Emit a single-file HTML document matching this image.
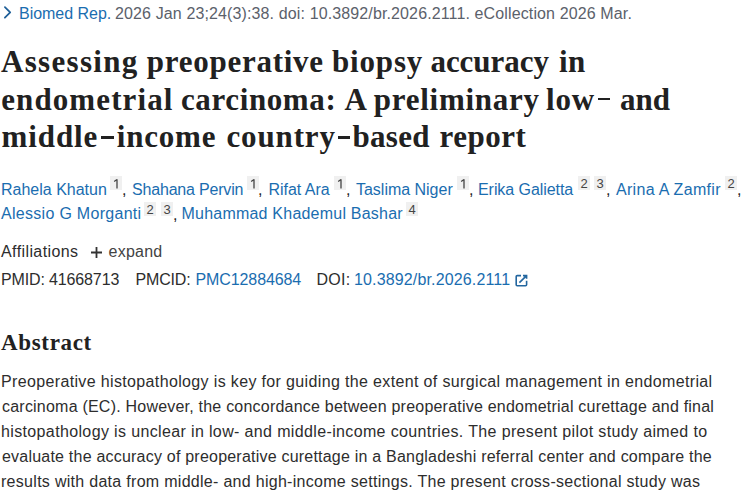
<!DOCTYPE html>
<html><head><meta charset="utf-8">
<style>

html,body{margin:0;padding:0;background:#fff;}
body{width:750px;height:500px;overflow:hidden;position:relative;font-family:"Liberation Sans",sans-serif;color:#212121;}
.g{position:absolute;white-space:nowrap;}
.s16{font-size:16px;line-height:24px;}
.link{color:#1a6db0;}
.gray{color:#5b616b;}
.dark{color:#2d2d2d;}
.dark2{color:#434343;}
.title{font-family:"Liberation Serif",serif;font-weight:bold;font-size:31px;line-height:38px;color:#212121;}
.h2{font-family:"Liberation Serif",serif;font-weight:bold;font-size:23px;line-height:30px;color:#212121;}
.sb{position:absolute;width:12px;height:14px;background:#f0f0f0;color:#444;font-size:13px;line-height:15px;text-align:center;}
.one{position:absolute;left:0;top:0;}
.cm{position:absolute;font-size:16px;line-height:24px;color:#212121;}

</style></head><body>
<svg style="position:absolute;left:0;top:0" width="16" height="24" viewBox="0 0 16 24"><path d="M4.9 7.1 L10.2 12.4 L4.9 17.7" fill="none" stroke="#1f5f98" stroke-width="1.75" stroke-linecap="round" stroke-linejoin="round"/></svg>
<div class="sb" style="left:110px;top:176px"><svg class="one" width="12" height="14" viewBox="0 0 12 14"><path d="M7 3.3 V12.5 M7 3.4 L4.2 5.5" fill="none" stroke="#444" stroke-width="1.3"/></svg></div><div class="cm" style="left:122px;top:177.5px">,</div>
<div class="sb" style="left:247px;top:176px"><svg class="one" width="12" height="14" viewBox="0 0 12 14"><path d="M7 3.3 V12.5 M7 3.4 L4.2 5.5" fill="none" stroke="#444" stroke-width="1.3"/></svg></div><div class="cm" style="left:258px;top:177.5px">,</div>
<div class="sb" style="left:334px;top:176px"><svg class="one" width="12" height="14" viewBox="0 0 12 14"><path d="M7 3.3 V12.5 M7 3.4 L4.2 5.5" fill="none" stroke="#444" stroke-width="1.3"/></svg></div><div class="cm" style="left:346px;top:177.5px">,</div>
<div class="sb" style="left:457px;top:176px"><svg class="one" width="12" height="14" viewBox="0 0 12 14"><path d="M7 3.3 V12.5 M7 3.4 L4.2 5.5" fill="none" stroke="#444" stroke-width="1.3"/></svg></div><div class="cm" style="left:469px;top:177.5px">,</div>
<div class="sb" style="left:578px;top:176px">2</div><div class="sb" style="left:594px;top:176px">3</div><div class="cm" style="left:606px;top:177.5px">,</div>
<div class="sb" style="left:725px;top:176px">2</div><div class="cm" style="left:737px;top:177.5px">,</div>
<div class="sb" style="left:144px;top:202px">2</div><div class="sb" style="left:161px;top:202px">3</div><div class="cm" style="left:173px;top:202.5px">,</div>
<div class="sb" style="left:406px;top:202px">4</div>
<svg style="position:absolute;left:90px;top:246px" width="13" height="13" viewBox="0 0 13 13"><path d="M6.5 1 V12 M1 6.5 H12" stroke="#333" stroke-width="1.8"/></svg>
<svg style="position:absolute;left:512px;top:271px" width="20" height="20" viewBox="0 0 20 20"><path d="M9 4.6 H5.2 Q4.2 4.6 4.2 5.6 V13.8 Q4.2 14.8 5.2 14.8 H13.6 Q14.6 14.8 14.6 13.8 V9.8" fill="none" stroke="#23669f" stroke-width="1.6"/><path d="M11 4.6 H14.6 V7.8 M7.4 11.6 L14.3 4.9" fill="none" stroke="#23669f" stroke-width="1.6"/></svg>
<div style="position:absolute;left:597.6px;top:97.6px;width:12.4px;height:2.6px;background:#212121"></div>
<div style="position:absolute;left:101.2px;top:136.3px;width:12.4px;height:2.6px;background:#212121"></div>
<div style="position:absolute;left:338px;top:136.2px;width:12.2px;height:2.6px;background:#212121"></div>

<div class="g s16 link" id="cit_link" style="left:19.00px;top:2.00px;letter-spacing:-0.020px">Biomed Rep.</div>
<div class="g s16 gray" id="cit_rest" style="left:115.00px;top:2.00px;letter-spacing:0.125px">2026 Jan 23;24(3):38. doi: 10.3892/br.2026.2111. eCollection 2026 Mar.</div>
<div class="g title" id="t1a" style="left:1.00px;top:42.60px;letter-spacing:1.312px">Assessing</div>
<div class="g title" id="t1b" style="left:146.80px;top:42.60px;letter-spacing:0.736px">preoperative</div>
<div class="g title" id="t1c" style="left:332.00px;top:42.60px;letter-spacing:0.840px">biopsy</div>
<div class="g title" id="t1d" style="left:430.40px;top:42.60px;letter-spacing:-0.014px">accuracy</div>
<div class="g title" id="t1e" style="left:559.00px;top:42.60px;letter-spacing:0.500px">in</div>
<div class="g title" id="t2a" style="left:1.20px;top:80.50px;letter-spacing:1.110px">endometrial</div>
<div class="g title" id="t2b" style="left:181.00px;top:80.50px;letter-spacing:0.611px">carcinoma:</div>
<div class="g title" id="t2c" style="left:344.40px;top:80.50px;letter-spacing:0.000px">A</div>
<div class="g title" id="t2d" style="left:373.80px;top:80.50px;letter-spacing:0.740px">preliminary</div>
<div class="g title" id="t2e" style="left:546.00px;top:80.50px;letter-spacing:0.800px">low</div>
<div class="g title" id="t2f" style="left:620.00px;top:80.50px;letter-spacing:0.000px">and</div>
<div class="g title" id="t3a" style="left:1.60px;top:118.31px;letter-spacing:0.900px">middle</div>
<div class="g title" id="t3b" style="left:116.80px;top:118.31px;letter-spacing:0.780px">income</div>
<div class="g title" id="t3c" style="left:226.40px;top:118.31px;letter-spacing:0.883px">country</div>
<div class="g title" id="t3d" style="left:352.40px;top:118.31px;letter-spacing:0.350px">based</div>
<div class="g title" id="t3e" style="left:439.60px;top:118.31px;letter-spacing:0.480px">report</div>
<div class="g s16 link" id="a1" style="left:1.00px;top:177.70px;letter-spacing:0.000px">Rahela Khatun</div>
<div class="g s16 link" id="a2" style="left:132.00px;top:177.70px;letter-spacing:-0.185px">Shahana Pervin</div>
<div class="g s16 link" id="a3" style="left:268.50px;top:177.70px;letter-spacing:-0.025px">Rifat Ara</div>
<div class="g s16 link" id="a4" style="left:356.00px;top:177.70px;letter-spacing:-0.017px">Taslima Niger</div>
<div class="g s16 link" id="a5" style="left:478.00px;top:177.70px;letter-spacing:-0.062px">Erika Galietta</div>
<div class="g s16 link" id="a6" style="left:616.00px;top:177.70px;letter-spacing:0.308px">Arina A Zamfir</div>
<div class="g s16 link" id="a7" style="left:1.00px;top:202.20px;letter-spacing:0.294px">Alessio G Morganti</div>
<div class="g s16 link" id="a8" style="left:181.50px;top:202.20px;letter-spacing:0.217px">Muhammad Khademul Bashar</div>
<div class="g s16 dark" id="aff" style="left:1.00px;top:240.00px;letter-spacing:0.400px">Affiliations</div>
<div class="g s16 dark2" id="exp" style="left:108.50px;top:240.00px;letter-spacing:0.240px">expand</div>
<div class="g s16 dark" id="pmid" style="left:1.00px;top:268.20px;letter-spacing:-0.138px">PMID: 41668713</div>
<div class="g s16 dark" id="pmcidl" style="left:135.50px;top:268.20px;letter-spacing:-0.160px">PMCID:</div>
<div class="g s16 link" id="pmcid" style="left:195.50px;top:268.20px;letter-spacing:-0.100px">PMC12884684</div>
<div class="g s16 dark" id="doil" style="left:316.50px;top:268.20px;letter-spacing:0.267px">DOI:</div>
<div class="g s16 link" id="doi" style="left:354.00px;top:268.20px;letter-spacing:0.147px">10.3892/br.2026.2111</div>
<div class="g h2" id="abs" style="left:1.00px;top:327.61px;letter-spacing:0.657px">Abstract</div>
<div class="g s16 dark" id="p1" style="left:1.00px;top:370.20px;letter-spacing:0.355px">Preoperative histopathology is key for guiding the extent of surgical management in endometrial</div>
<div class="g s16 dark" id="p2" style="left:2.00px;top:395.20px;letter-spacing:0.217px">carcinoma (EC). However, the concordance between preoperative endometrial curettage and final</div>
<div class="g s16 dark" id="p3" style="left:1.00px;top:420.20px;letter-spacing:0.362px">histopathology is unclear in low- and middle-income countries. The present pilot study aimed to</div>
<div class="g s16 dark" id="p4" style="left:2.00px;top:445.20px;letter-spacing:0.215px">evaluate the accuracy of preoperative curettage in a Bangladeshi referral center and compare the</div>
<div class="g s16 dark" id="p5" style="left:1.00px;top:470.20px;letter-spacing:0.290px">results with data from middle- and high-income settings. The present cross-sectional study was</div>
</body></html>
